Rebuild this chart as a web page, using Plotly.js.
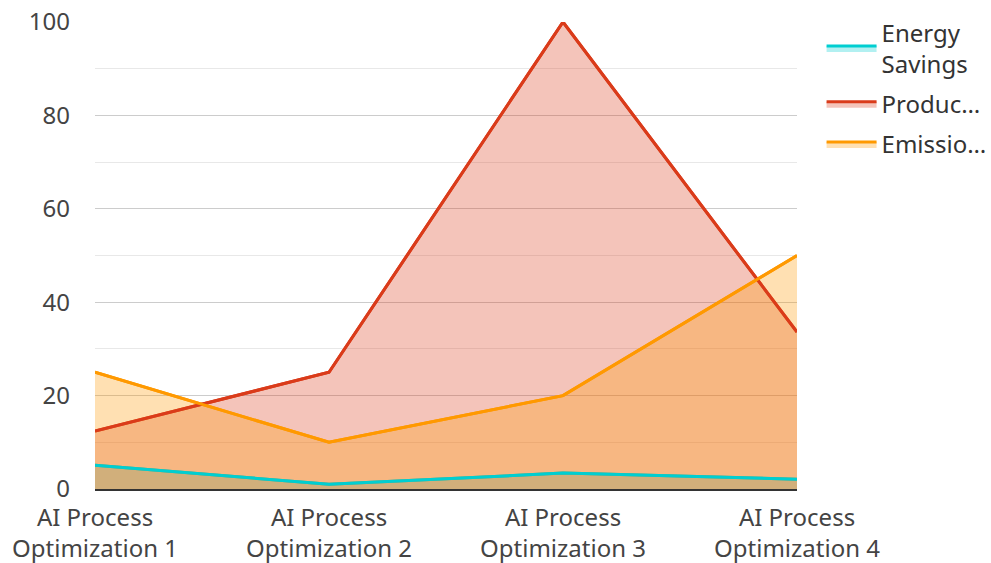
<!DOCTYPE html>
<html><head><meta charset="utf-8">
<script src="https://cdn.plot.ly/plotly-3.0.1.min.js"></script>
<style>html,body{margin:0;padding:0;background:#fff}#chart{width:991px;height:563px}</style>
</head><body><div id="chart"></div>
<script>
const categories = ["AI Process<br>Optimization 1","AI Process<br>Optimization 2","AI Process<br>Optimization 3","AI Process<br>Optimization 4"];
const seriesNames = ["Energy<br>Savings","Produc…","Emissio…"];
const energySavings = [5.1, 1.0, 3.4, 2.1];
const productivity = [12.4, 25, 100, 33.6];
const emissions = [25, 10, 20, 50];
const yTickVals = [0,20,40,60,80,100];

const lineColors = ["#00CED1","#DA3B1A","#FF9900"];
const fillColors = ["rgba(0,206,209,0.3)","rgba(218,59,26,0.3)","rgba(255,153,0,0.3)"];
const seriesVals = [energySavings, productivity, emissions];
const fillTraces = seriesVals.map((vals,i)=>({
  type:"scatter", mode:"lines", x:categories, y:vals, name:seriesNames[i],
  legendgroup:"g"+i,
  fill:"tozeroy", fillcolor:fillColors[i],
  line:{color:lineColors[i], width:3}
}));
const lineTraces = seriesVals.map((vals,i)=>({
  type:"scatter", mode:"lines", x:categories, y:vals, name:seriesNames[i],
  legendgroup:"g"+i, showlegend:false, hoverinfo:"skip",
  line:{color:lineColors[i], width:3}
}));
const layout = {
  width:991, height:563,
  margin:{l:95, r:194, t:22, b:74, autoexpand:false},
  paper_bgcolor:"#fff", plot_bgcolor:"#fff",
  font:{family:"Noto Sans, sans-serif", size:24, color:"#444"},
  showlegend:true,
  legend:{x:1.035, y:1.025, xanchor:"left", yanchor:"top", font:{size:24, color:"#333"}, itemwidth:50, tracegroupgap:6},
  xaxis:{type:"category", range:[0,3], showgrid:false, showline:true, linecolor:"#333", linewidth:2, ticks:"", tickfont:{size:24, color:"#444"}, ticklabelstandoff:6, zeroline:false, automargin:false},
  yaxis:{range:[0,100], tickvals:yTickVals, showgrid:true, gridcolor:"#cccccc", gridwidth:1, zeroline:false, ticks:"", tickfont:{size:24, color:"#444"}, ticklabelstandoff:24,
    minor:{dtick:10, showgrid:true, gridcolor:"#e8e8e8", gridwidth:1}, automargin:false}
};
Plotly.newPlot("chart", fillTraces.concat(lineTraces), layout, {displayModeBar:false, staticPlot:true});
</script></body></html>
